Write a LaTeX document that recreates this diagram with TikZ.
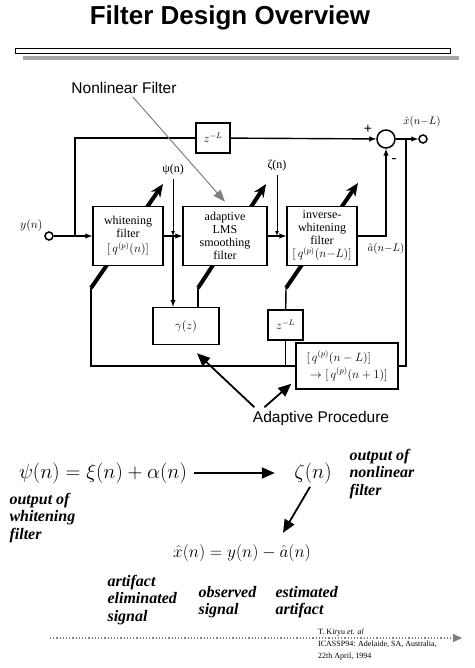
\documentclass[tikz,border=0pt]{standalone}
\usepackage{fontspec}
\setmainfont{Liberation Serif}
\setsansfont{Liberation Sans}
\usetikzlibrary{arrows.meta,backgrounds}

\begin{document}
\begin{tikzpicture}[x=1pt,y=-1pt]
  \tikzstyle{box}=[rectangle, draw, line width=1.5pt, fill=white, align=center, inner sep=1pt, font=\fontsize{12}{13}\selectfont]
  \tikzstyle{dot}=[circle, draw, line width=1.5pt, fill=white, inner sep=0pt]
  \tikzstyle{sig}=[->, >=latex, line width=1.4pt]
  \tikzstyle{wire}=[line width=1.4pt]
  \tikzstyle{tap}=[->, >=latex, line width=0.7pt]
  \tikzstyle{tune}=[-{Stealth[length=13pt,width=11pt]}, line width=4pt]
  \tikzstyle{pointer}=[-{Triangle[length=13pt,width=11pt]}, line width=1.8pt]
  \tikzstyle{note}=[align=left, anchor=west, font=\bfseries\itshape\fontsize{16}{17.5}\selectfont]
  \tikzstyle{head}=[font=\sffamily\fontsize{15.5}{18}\selectfont]
  \tikzstyle{lab}=[font=\fontsize{12}{14}\selectfont]
  \tikzstyle{formula}=[font=\fontsize{20}{24}\selectfont]
  \useasboundingbox (0,0) rectangle (474,668);

  % title
  \node[font=\sffamily\bfseries\fontsize{26}{30}\selectfont] (title) at (230,18) {Filter Design Overview};
  \draw[line width=0.8pt, fill=white] (15,48) rectangle (450,53);
  \fill[gray!70] (23,56) rectangle (459,60);

  % filter chain
  \node[box, minimum width=70pt, minimum height=59pt] (wf) at (128,236) {whitening\\filter\\[2pt]$[\,q^{(p)}(n)]$};
  \node[box, minimum width=84pt, minimum height=59pt] (lms) at (225,236) {adaptive\\LMS\\smoothing\\filter};
  \node[box, minimum width=70pt, minimum height=59pt] (iwf) at (322,236) {inverse-\\whitening\\filter\\$[\,q^{(p)}(n{-}L)]$};
  \node[box, lab, minimum width=34pt, minimum height=30pt] (zd) at (213,138) {$z^{-L}$};
  \node[box, lab, minimum width=66pt, minimum height=37pt] (gam) at (186,326) {$\gamma(z)$};
  \node[box, lab, minimum width=35pt, minimum height=30pt] (zd2) at (285.5,325) {$z^{-L}$};
  \node[box, minimum width=102pt, minimum height=46pt, align=left, font=\fontsize{12}{14}\selectfont] (upd) at (347,366) {$[\,q^{(p)}(n-L)]$\\[3pt]$\;\rightarrow[\,q^{(p)}(n+1)]$};
  \node[dot, minimum size=18pt] (sum) at (386,139) {};
  \node[dot, minimum size=8pt] (in) at (49,236) {};
  \node[dot, minimum size=8pt] (out) at (423,139) {};

  % labels
  \node[lab, anchor=east] (ylab) at (46,225) {$y(n)$};
  \node[lab] (psilab) at (173,170) {ψ(n)};
  \node[lab] (zetalab) at (277,166) {ζ(n)};
  \node[lab, anchor=west, font=\fontsize{11}{13}\selectfont] (alab) at (364,249) {$\hat{a}(n{-}L)$};
  \node[lab, font=\fontsize{11}{13}\selectfont] (xlab) at (422,122) {$\hat{x}(n{-}L)$};
  \node[font=\bfseries\Large] (plus) at (368,129) {+};
  \node[font=\bfseries\Large] (minus) at (394,161) {-};
  \node[head] (nonlin) at (124,88) {Nonlinear Filter};
  \node[head] (adp) at (321,418) {Adaptive Procedure};

  % signal flow
  \coordinate (split) at (75,236);
  \coordinate (jpsi) at (173,236);
  \coordinate (jzeta) at (277,236);
  \coordinate (fb) at (406,139);
  \draw[sig] (in) -- (wf);
  \draw[wire] (split) |- (zd.west);
  \draw[sig] (zd) -- (sum);
  \draw[sig] (wf) -- (lms);
  \draw[sig] (lms) -- (iwf);
  \draw[sig] (iwf.east) -| (sum.south);
  \draw[sig] (sum) -- (out);
  \draw[tap] (psilab) -- (jpsi);
  \draw[tap] (zetalab) -- (jzeta);
  \draw[sig] (jpsi) -- (jpsi |- gam.north);
  \draw[wire] (fb) |- (upd.east);

  % adaptation
  \coordinate (tw) at (91,288);
  \coordinate (tl) at (198,288);
  \coordinate (ti) at (286,288);
  \draw[wire] (tw) |- (upd.west);
  \draw[wire] (tl) -- (tl |- gam.north);
  \draw[wire] (ti) -- (zd2);
  \draw[wire] (zd2) -- (zd2 |- upd.west);
  \begin{pgfonlayer}{background}
    \draw[tune] (tw) -- ++(72,-104);
    \draw[tune] (tl) -- ++(68,-104);
    \draw[tune] (ti) -- ++(72,-105);
  \end{pgfonlayer}
  \draw[gray, line width=1pt, -{Triangle[length=12pt,width=9pt]}] ([xshift=9pt]nonlin.south) -- ([yshift=4pt]lms.north);
  \draw[pointer] ([xshift=5pt]adp.north west) -- ([shift={(11,8)}]gam.south);
  \draw[pointer] ([xshift=15pt]adp.north west) -- ([shift={(-4,-6)}]upd.south west);

  % equations
  \node[formula] (eqa) at (103,473) {$\psi(n)=\xi(n)+\alpha(n)$};
  \node[formula] (zeta) at (313,473) {$\zeta(n)$};
  \node[formula, font=\fontsize{19}{24}\selectfont] (eqb) at (242,553) {$\hat{x}(n)=y(n)-\hat{a}(n)$};
  \draw[pointer] ([xshift=4pt]eqa.east) -- ([xshift=-16pt]zeta.west);
  \draw[pointer] ([xshift=-3pt]zeta.south) -- ([shift={(41,-8)}]eqb.north);
  \node[note] (nl) at (346,474) {output of\\nonlinear\\filter};
  \node[note] (wl) at (6,518) {output of\\whitening\\filter};
  \node[note] (el) at (104,600) {artifact\\eliminated\\signal};
  \node[note] (ob) at (195,602) {observed\\signal};
  \node[note] (es) at (272,602) {estimated\\artifact};

  % footer
  \draw[gray, dotted, line width=1.2pt, -{Triangle[length=9pt,width=8pt]}] (50,638) -- (462,638);
  \node[anchor=north west, align=left, inner sep=0pt, font=\fontsize{8}{12}\selectfont] (cite) at (318,629) {T. Kiryu \textit{et. al}\\ICASSP94: Adelaide, SA, Australia,\\22th April, 1994};
\end{tikzpicture}
\end{document}
